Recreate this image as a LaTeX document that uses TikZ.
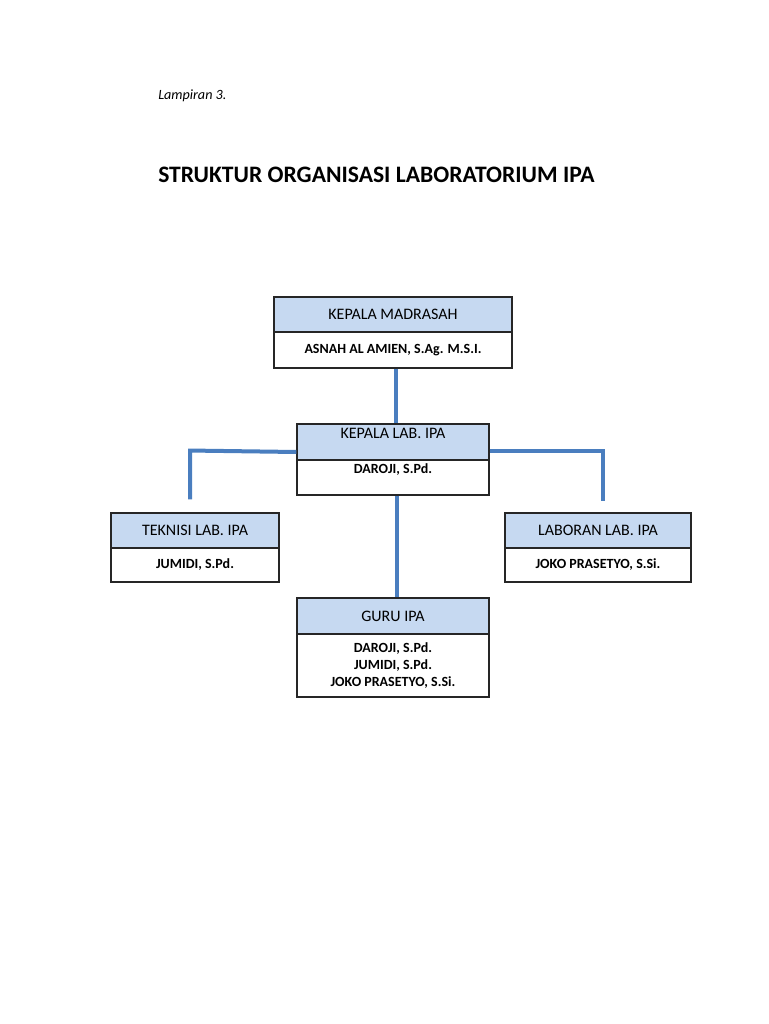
\documentclass[tikz,border=0pt]{standalone}
\usepackage{fontspec}
\setmainfont{Carlito}
\definecolor{hdrfill}{HTML}{C6D9F1}
\definecolor{connblue}{HTML}{4A7EBF}
\begin{document}
\begin{tikzpicture}[x=0.75pt,y=-0.75pt,
  box/.style={draw=black!85, line width=0.8pt, inner sep=0pt, align=center},
  hdr/.style={box, fill=hdrfill, font=\fontsize{12}{14}\selectfont},
  bdy/.style={box, fill=white, font=\fontsize{10.5}{12.4}\selectfont\bfseries},
  conn/.style={draw=connblue, line width=3pt}]
\useasboundingbox (0,0) rectangle (768,1024);
\node[anchor=west, inner sep=0pt, font=\fontsize{10.6}{12}\selectfont\itshape] (lamp) at (158,96) {Lampiran 3.};
\node[anchor=west, inner sep=0pt, font=\fontsize{17.7}{21}\selectfont\bfseries] (title) at (158,175) {STRUKTUR ORGANISASI LABORATORIUM IPA};
% Kepala Madrasah
\node[hdr, minimum width=178.5pt, minimum height=26.25pt] (kmh) at (393,314.5) {KEPALA MADRASAH};
\node[bdy, minimum width=178.5pt, minimum height=27pt] (kmb) at (393,350) {ASNAH AL AMIEN, S.Ag. M.S.I.};
% Kepala Lab
\node[hdr, minimum width=144pt, minimum height=27pt] (klh) at (393,442) {\raisebox{3pt}[0pt][0pt]{KEPALA LAB. IPA}};
\node[bdy, minimum width=144pt, minimum height=26.25pt] (klb) at (393,477.5) {\raisebox{3.3pt}[0pt][0pt]{DAROJI, S.Pd.}};
% Teknisi
\node[hdr, minimum width=126pt, minimum height=26.25pt] (tkh) at (195,530.5) {TEKNISI LAB. IPA};
\node[bdy, minimum width=126pt, minimum height=25.5pt] (tkb) at (195,565) {JUMIDI, S.Pd.};
% Laboran
\node[hdr, minimum width=139.5pt, minimum height=26.25pt] (lbh) at (598,530.5) {LABORAN LAB. IPA};
\node[bdy, minimum width=139.5pt, minimum height=25.5pt] (lbb) at (598,565) {JOKO PRASETYO, S.Si.};
% Guru IPA
\node[hdr, minimum width=144pt, minimum height=27pt] (guh) at (393,616) {GURU IPA};
\node[bdy, minimum width=144pt, minimum height=47.25pt] (gub) at (393,665.5) {DAROJI, S.Pd.\\JUMIDI, S.Pd.\\JOKO PRASETYO, S.Si.};
% connectors
\draw[conn] ([xshift=2.25pt]kmb.south) -- ([xshift=2.25pt]klh.north);
\draw[conn] ([yshift=-7.5pt]klh.west) -- ([xshift=-3.75pt,yshift=-6.4pt]klh.west -| tkh.north) -- ([xshift=-3.75pt,yshift=9.75pt]tkh.north);
\draw[conn] ([yshift=-6.75pt]klh.east) -- ([xshift=3.75pt,yshift=-6.75pt]klh.east -| lbh.north) -- ([xshift=3.75pt,yshift=8.25pt]lbh.north);
\draw[conn] ([xshift=3pt]klb.south) -- ([xshift=3pt]guh.north);
\end{tikzpicture}
\end{document}
